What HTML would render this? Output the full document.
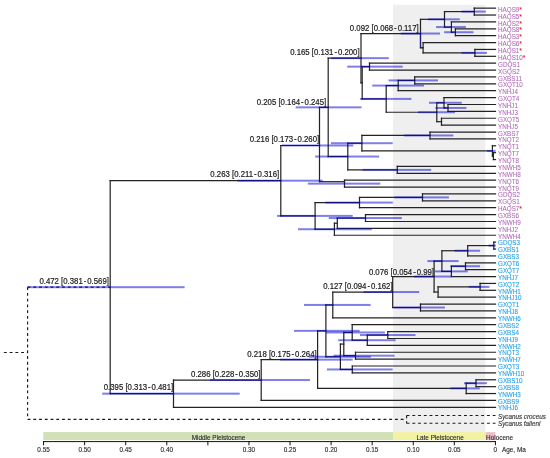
<!DOCTYPE html>
<html><head><meta charset="utf-8"><title>Dated phylogeny</title>
<style>
html,body{margin:0;padding:0;background:#fff;}
svg{display:block;}
text{font-family:"Liberation Sans",Arial,sans-serif;}
.nl{font-size:7.8px;fill:#1a1a1a;text-anchor:end;stroke:#1a1a1a;stroke-width:0.18px;}
.tp{font-size:6.3px;fill:#b066ba;stroke:#b066ba;stroke-width:0.05px;}
.tb{font-size:6.3px;fill:#26a3ec;stroke:#26a3ec;stroke-width:0.1px;}
.og{font-size:6.3px;fill:#333;font-style:italic;stroke:#333;stroke-width:0.12px;}
.ax{font-size:6.4px;fill:#222;text-anchor:middle;stroke:#222;stroke-width:0.1px;}
.st{font-size:6.4px;fill:#222;text-anchor:middle;stroke:#222;stroke-width:0.08px;}
</style></head><body>
<svg width="550" height="458" viewBox="0 0 550 458">
<rect width="550" height="458" fill="#fff"/>
<g>
<rect x="393" y="4.8" width="92.3" height="427.2" fill="#efefef"/>
<rect x="43.3" y="432.1" width="349.7" height="8.0" fill="#d1e0b5"/>
<rect x="393" y="432.1" width="92.6" height="8.0" fill="#f2f2a2"/>
<rect x="485.6" y="432.1" width="9.8" height="8.0" fill="#edc0c8"/>
<text class="st" transform="translate(218.6,439.5) scale(1,1.1)">Middle Pleistocene</text>
<text class="st" transform="translate(440.1,439.5) scale(1,1.1)">Late Pleistocene</text>
<text class="st" transform="translate(499.6,439.5) scale(1,1.1)">Holocene</text>
<g stroke="#111" stroke-width="1" fill="none">
<line x1="43.1" y1="441.6" x2="495.9" y2="441.6"/>
<line x1="43.57" y1="441" x2="43.57" y2="445.3"/>
<line x1="84.65" y1="441" x2="84.65" y2="445.3"/>
<line x1="125.72" y1="441" x2="125.72" y2="445.3"/>
<line x1="166.8" y1="441" x2="166.8" y2="445.3"/>
<line x1="207.87" y1="441" x2="207.87" y2="445.3"/>
<line x1="248.95" y1="441" x2="248.95" y2="445.3"/>
<line x1="290.02" y1="441" x2="290.02" y2="445.3"/>
<line x1="331.1" y1="441" x2="331.1" y2="445.3"/>
<line x1="372.17" y1="441" x2="372.17" y2="445.3"/>
<line x1="413.25" y1="441" x2="413.25" y2="445.3"/>
<line x1="454.32" y1="441" x2="454.32" y2="445.3"/>
<line x1="495.4" y1="441" x2="495.4" y2="445.3"/>
</g>
<text class="ax" x="43.57" y="452">0.55</text>
<text class="ax" x="84.65" y="452">0.50</text>
<text class="ax" x="125.72" y="452">0.45</text>
<text class="ax" x="166.8" y="452">0.40</text>
<text class="ax" x="248.95" y="452">0.30</text>
<text class="ax" x="290.02" y="452">0.25</text>
<text class="ax" x="331.1" y="452">0.20</text>
<text class="ax" x="372.17" y="452">0.15</text>
<text class="ax" x="413.25" y="452">0.10</text>
<text class="ax" x="454.32" y="452">0.05</text>
<text class="ax" x="495.4" y="452">0</text>
<text class="ax" x="513.9" y="451.5">Age, Ma</text>
<g stroke="#232323" stroke-width="1.22" fill="none" stroke-linecap="square">
<line x1="110.2" y1="180.7" x2="110.2" y2="393.66"/>
<line x1="110.2" y1="180.7" x2="280.8" y2="180.7"/>
<line x1="280.8" y1="145.49" x2="280.8" y2="215.9"/>
<line x1="280.8" y1="145.49" x2="319.5" y2="145.49"/>
<line x1="319.5" y1="107.35" x2="319.5" y2="181.7"/>
<line x1="319.5" y1="107.35" x2="328.2" y2="107.35"/>
<line x1="328.2" y1="58.15" x2="328.2" y2="156.54"/>
<line x1="328.2" y1="58.15" x2="361" y2="58.15"/>
<line x1="361" y1="33.53" x2="361" y2="82.78"/>
<line x1="361" y1="33.53" x2="420.5" y2="33.53"/>
<line x1="420.5" y1="19.33" x2="420.5" y2="47.72"/>
<line x1="420.5" y1="19.33" x2="444.5" y2="19.33"/>
<line x1="444.5" y1="11.59" x2="444.5" y2="27.08"/>
<line x1="444.5" y1="11.59" x2="474.3" y2="11.59"/>
<line x1="474.3" y1="8.15" x2="474.3" y2="15.03"/>
<line x1="474.3" y1="8.15" x2="495.5" y2="8.15"/>
<line x1="474.3" y1="15.03" x2="495.5" y2="15.03"/>
<line x1="444.5" y1="27.08" x2="451.4" y2="27.08"/>
<line x1="451.4" y1="21.91" x2="451.4" y2="32.24"/>
<line x1="451.4" y1="21.91" x2="495.5" y2="21.91"/>
<line x1="451.4" y1="32.24" x2="455.4" y2="32.24"/>
<line x1="455.4" y1="28.8" x2="455.4" y2="35.68"/>
<line x1="455.4" y1="28.8" x2="495.5" y2="28.8"/>
<line x1="455.4" y1="35.68" x2="495.5" y2="35.68"/>
<line x1="420.5" y1="47.72" x2="423.1" y2="47.72"/>
<line x1="423.1" y1="42.56" x2="423.1" y2="52.88"/>
<line x1="423.1" y1="42.56" x2="495.5" y2="42.56"/>
<line x1="423.1" y1="52.88" x2="474.9" y2="52.88"/>
<line x1="474.9" y1="49.44" x2="474.9" y2="56.32"/>
<line x1="474.9" y1="49.44" x2="495.5" y2="49.44"/>
<line x1="474.9" y1="56.32" x2="495.5" y2="56.32"/>
<line x1="361" y1="82.78" x2="362.2" y2="82.78"/>
<line x1="362.2" y1="66.65" x2="362.2" y2="98.91"/>
<line x1="362.2" y1="66.65" x2="369.5" y2="66.65"/>
<line x1="369.5" y1="63.21" x2="369.5" y2="70.09"/>
<line x1="369.5" y1="63.21" x2="495.5" y2="63.21"/>
<line x1="369.5" y1="70.09" x2="495.5" y2="70.09"/>
<line x1="362.2" y1="98.91" x2="386.2" y2="98.91"/>
<line x1="386.2" y1="85.57" x2="386.2" y2="112.24"/>
<line x1="386.2" y1="85.57" x2="398.2" y2="85.57"/>
<line x1="398.2" y1="80.41" x2="398.2" y2="90.73"/>
<line x1="398.2" y1="80.41" x2="414.7" y2="80.41"/>
<line x1="414.7" y1="76.97" x2="414.7" y2="83.85"/>
<line x1="414.7" y1="76.97" x2="495.5" y2="76.97"/>
<line x1="414.7" y1="83.85" x2="495.5" y2="83.85"/>
<line x1="398.2" y1="90.73" x2="495.5" y2="90.73"/>
<line x1="386.2" y1="112.24" x2="436.8" y2="112.24"/>
<line x1="436.8" y1="102.78" x2="436.8" y2="121.7"/>
<line x1="436.8" y1="102.78" x2="444" y2="102.78"/>
<line x1="444" y1="97.62" x2="444" y2="107.94"/>
<line x1="444" y1="97.62" x2="495.5" y2="97.62"/>
<line x1="444" y1="107.94" x2="448" y2="107.94"/>
<line x1="448" y1="104.5" x2="448" y2="111.38"/>
<line x1="448" y1="104.5" x2="495.5" y2="104.5"/>
<line x1="448" y1="111.38" x2="495.5" y2="111.38"/>
<line x1="436.8" y1="121.7" x2="441.5" y2="121.7"/>
<line x1="441.5" y1="118.26" x2="441.5" y2="125.14"/>
<line x1="441.5" y1="118.26" x2="495.5" y2="118.26"/>
<line x1="441.5" y1="125.14" x2="495.5" y2="125.14"/>
<line x1="328.2" y1="156.54" x2="347.8" y2="156.54"/>
<line x1="347.8" y1="143.21" x2="347.8" y2="169.88"/>
<line x1="347.8" y1="143.21" x2="361.9" y2="143.21"/>
<line x1="361.9" y1="135.47" x2="361.9" y2="150.95"/>
<line x1="361.9" y1="135.47" x2="430" y2="135.47"/>
<line x1="430" y1="132.03" x2="430" y2="138.91"/>
<line x1="430" y1="132.03" x2="495.5" y2="132.03"/>
<line x1="430" y1="138.91" x2="495.5" y2="138.91"/>
<line x1="361.9" y1="150.95" x2="492.4" y2="150.95"/>
<line x1="492.4" y1="145.79" x2="492.4" y2="156.11"/>
<line x1="492.4" y1="145.79" x2="495.5" y2="145.79"/>
<line x1="492.4" y1="156.11" x2="493.4" y2="156.11"/>
<line x1="493.4" y1="152.67" x2="493.4" y2="159.55"/>
<line x1="493.4" y1="152.67" x2="495.5" y2="152.67"/>
<line x1="493.4" y1="159.55" x2="495.5" y2="159.55"/>
<line x1="347.8" y1="169.88" x2="397.3" y2="169.88"/>
<line x1="397.3" y1="166.44" x2="397.3" y2="173.32"/>
<line x1="397.3" y1="166.44" x2="495.5" y2="166.44"/>
<line x1="397.3" y1="173.32" x2="495.5" y2="173.32"/>
<line x1="319.5" y1="181.7" x2="344.5" y2="181.7"/>
<line x1="344.5" y1="180.2" x2="344.5" y2="187.08"/>
<line x1="344.5" y1="180.2" x2="495.5" y2="180.2"/>
<line x1="344.5" y1="187.08" x2="495.5" y2="187.08"/>
<line x1="280.8" y1="215.9" x2="315.1" y2="215.9"/>
<line x1="315.1" y1="202.57" x2="315.1" y2="229.23"/>
<line x1="315.1" y1="202.57" x2="359.5" y2="202.57"/>
<line x1="359.5" y1="197.41" x2="359.5" y2="207.73"/>
<line x1="359.5" y1="197.41" x2="422.5" y2="197.41"/>
<line x1="422.5" y1="193.96" x2="422.5" y2="200.85"/>
<line x1="422.5" y1="193.96" x2="495.5" y2="193.96"/>
<line x1="422.5" y1="200.85" x2="495.5" y2="200.85"/>
<line x1="359.5" y1="207.73" x2="495.5" y2="207.73"/>
<line x1="315.1" y1="229.23" x2="334.4" y2="229.23"/>
<line x1="334.4" y1="223.21" x2="334.4" y2="235.26"/>
<line x1="334.4" y1="223.21" x2="337.3" y2="223.21"/>
<line x1="337.3" y1="218.05" x2="337.3" y2="228.37"/>
<line x1="337.3" y1="218.05" x2="365.5" y2="218.05"/>
<line x1="365.5" y1="214.61" x2="365.5" y2="221.49"/>
<line x1="365.5" y1="214.61" x2="495.5" y2="214.61"/>
<line x1="365.5" y1="221.49" x2="495.5" y2="221.49"/>
<line x1="337.3" y1="228.37" x2="495.5" y2="228.37"/>
<line x1="334.4" y1="235.26" x2="495.5" y2="235.26"/>
<line x1="110.2" y1="393.66" x2="173.5" y2="393.66"/>
<line x1="173.5" y1="380.02" x2="173.5" y2="407.31"/>
<line x1="173.5" y1="380.02" x2="261.2" y2="380.02"/>
<line x1="261.2" y1="359.62" x2="261.2" y2="400.42"/>
<line x1="261.2" y1="359.62" x2="317.6" y2="359.62"/>
<line x1="317.6" y1="330.85" x2="317.6" y2="388.38"/>
<line x1="317.6" y1="330.85" x2="325.9" y2="330.85"/>
<line x1="325.9" y1="304.94" x2="325.9" y2="356.77"/>
<line x1="325.9" y1="304.94" x2="332.8" y2="304.94"/>
<line x1="332.8" y1="292.03" x2="332.8" y2="317.84"/>
<line x1="332.8" y1="292.03" x2="392.7" y2="292.03"/>
<line x1="392.7" y1="276.55" x2="392.7" y2="307.52"/>
<line x1="392.7" y1="276.55" x2="434.1" y2="276.55"/>
<line x1="434.1" y1="261.06" x2="434.1" y2="292.03"/>
<line x1="434.1" y1="261.06" x2="441.9" y2="261.06"/>
<line x1="441.9" y1="250.74" x2="441.9" y2="271.39"/>
<line x1="441.9" y1="250.74" x2="467.7" y2="250.74"/>
<line x1="467.7" y1="245.58" x2="467.7" y2="255.9"/>
<line x1="467.7" y1="245.58" x2="493.8" y2="245.58"/>
<line x1="493.8" y1="242.14" x2="493.8" y2="249.02"/>
<line x1="493.8" y1="242.14" x2="495.5" y2="242.14"/>
<line x1="493.8" y1="249.02" x2="495.5" y2="249.02"/>
<line x1="467.7" y1="255.9" x2="495.5" y2="255.9"/>
<line x1="441.9" y1="271.39" x2="451.4" y2="271.39"/>
<line x1="451.4" y1="266.22" x2="451.4" y2="276.55"/>
<line x1="451.4" y1="266.22" x2="465.5" y2="266.22"/>
<line x1="465.5" y1="262.78" x2="465.5" y2="269.67"/>
<line x1="465.5" y1="262.78" x2="495.5" y2="262.78"/>
<line x1="465.5" y1="269.67" x2="495.5" y2="269.67"/>
<line x1="451.4" y1="276.55" x2="495.5" y2="276.55"/>
<line x1="434.1" y1="292.03" x2="438.1" y2="292.03"/>
<line x1="438.1" y1="286.87" x2="438.1" y2="297.19"/>
<line x1="438.1" y1="286.87" x2="480.1" y2="286.87"/>
<line x1="480.1" y1="283.43" x2="480.1" y2="290.31"/>
<line x1="480.1" y1="283.43" x2="495.5" y2="283.43"/>
<line x1="480.1" y1="290.31" x2="495.5" y2="290.31"/>
<line x1="438.1" y1="297.19" x2="495.5" y2="297.19"/>
<line x1="392.7" y1="307.52" x2="420.5" y2="307.52"/>
<line x1="420.5" y1="304.08" x2="420.5" y2="310.96"/>
<line x1="420.5" y1="304.08" x2="495.5" y2="304.08"/>
<line x1="420.5" y1="310.96" x2="495.5" y2="310.96"/>
<line x1="332.8" y1="317.84" x2="495.5" y2="317.84"/>
<line x1="325.9" y1="356.77" x2="340.4" y2="356.77"/>
<line x1="340.4" y1="344.08" x2="340.4" y2="369.45"/>
<line x1="340.4" y1="344.08" x2="343.8" y2="344.08"/>
<line x1="343.8" y1="332.46" x2="343.8" y2="355.69"/>
<line x1="343.8" y1="332.46" x2="352.2" y2="332.46"/>
<line x1="352.2" y1="324.72" x2="352.2" y2="340.21"/>
<line x1="352.2" y1="324.72" x2="495.5" y2="324.72"/>
<line x1="352.2" y1="340.21" x2="367.3" y2="340.21"/>
<line x1="367.3" y1="335.04" x2="367.3" y2="345.37"/>
<line x1="367.3" y1="335.04" x2="387.8" y2="335.04"/>
<line x1="387.8" y1="331.6" x2="387.8" y2="338.49"/>
<line x1="387.8" y1="331.6" x2="495.5" y2="331.6"/>
<line x1="387.8" y1="338.49" x2="495.5" y2="338.49"/>
<line x1="367.3" y1="345.37" x2="495.5" y2="345.37"/>
<line x1="343.8" y1="355.69" x2="355.5" y2="355.69"/>
<line x1="355.5" y1="352.25" x2="355.5" y2="359.13"/>
<line x1="355.5" y1="352.25" x2="495.5" y2="352.25"/>
<line x1="355.5" y1="359.13" x2="495.5" y2="359.13"/>
<line x1="340.4" y1="369.45" x2="352.3" y2="369.45"/>
<line x1="352.3" y1="366.01" x2="352.3" y2="372.9"/>
<line x1="352.3" y1="366.01" x2="495.5" y2="366.01"/>
<line x1="352.3" y1="372.9" x2="495.5" y2="372.9"/>
<line x1="317.6" y1="388.38" x2="466.2" y2="388.38"/>
<line x1="466.2" y1="383.22" x2="466.2" y2="393.54"/>
<line x1="466.2" y1="383.22" x2="476" y2="383.22"/>
<line x1="476" y1="379.78" x2="476" y2="386.66"/>
<line x1="476" y1="379.78" x2="495.5" y2="379.78"/>
<line x1="476" y1="386.66" x2="495.5" y2="386.66"/>
<line x1="466.2" y1="393.54" x2="495.5" y2="393.54"/>
<line x1="261.2" y1="400.42" x2="495.5" y2="400.42"/>
<line x1="173.5" y1="407.31" x2="495.5" y2="407.31"/>
</g>
<g stroke="#1a1a1a" stroke-width="1.15" fill="none" stroke-dasharray="2.87 2.87">
<line x1="3.9" y1="352.5" x2="27.6" y2="352.5"/>
<line x1="27.6" y1="287.18" x2="27.6" y2="419.35"/>
<line x1="27.6" y1="287.18" x2="110.2" y2="287.18"/>
<line x1="27.6" y1="419.35" x2="406.6" y2="419.35"/>
<line x1="406.6" y1="415.5" x2="406.6" y2="423.2"/>
<line x1="406.6" y1="415.5" x2="495.5" y2="415.5"/>
<line x1="406.6" y1="423.2" x2="495.5" y2="423.2"/>
</g>
<g stroke="#1c1c7c" stroke-width="1.2" fill="none">
<line x1="420.5" y1="33.53" x2="420.5" y2="47.72"/>
<line x1="420.5" y1="47.72" x2="423.1" y2="47.72"/>
</g>
<g fill="#0000d8" fill-opacity="0.5">
<rect x="461.5" y="10.59" width="24.3" height="2"/>
<rect x="444.1" y="31.24" width="29.4" height="2"/>
<rect x="436.1" y="26.08" width="29.8" height="2"/>
<rect x="428.1" y="18.33" width="31.7" height="2"/>
<rect x="461.5" y="51.88" width="25.5" height="2"/>
<rect x="400.7" y="32.53" width="39.3" height="2"/>
<rect x="347.2" y="65.65" width="55.5" height="2"/>
<rect x="388.5" y="79.41" width="49.5" height="2"/>
<rect x="372.2" y="84.57" width="51.8" height="2"/>
<rect x="435.4" y="106.94" width="31.1" height="2"/>
<rect x="429" y="101.78" width="32.8" height="2"/>
<rect x="418" y="111.24" width="37" height="2"/>
<rect x="360.1" y="97.91" width="51.3" height="2"/>
<rect x="331.1" y="57.15" width="57.7" height="2"/>
<rect x="404.2" y="134.47" width="49.1" height="2"/>
<rect x="487.1" y="149.95" width="8.5" height="2"/>
<rect x="330.9" y="142.21" width="61.8" height="2"/>
<rect x="362.5" y="168.88" width="68.7" height="2"/>
<rect x="315.1" y="155.54" width="64" height="2"/>
<rect x="295.7" y="106.35" width="65.8" height="2"/>
<rect x="307.8" y="182.64" width="72.5" height="2"/>
<rect x="281.8" y="144.49" width="71.5" height="2"/>
<rect x="394.5" y="196.41" width="54.4" height="2"/>
<rect x="325.3" y="201.57" width="67.5" height="2"/>
<rect x="328.7" y="217.05" width="73.1" height="2"/>
<rect x="298" y="228.23" width="73.8" height="2"/>
<rect x="277" y="214.9" width="75.7" height="2"/>
<rect x="237.6" y="179.7" width="85.1" height="2"/>
<rect x="488.5" y="244.58" width="7.4" height="2"/>
<rect x="454.6" y="249.74" width="25.5" height="2"/>
<rect x="450.5" y="265.22" width="29.6" height="2"/>
<rect x="435" y="270.39" width="32.7" height="2"/>
<rect x="427.4" y="260.06" width="31.2" height="2"/>
<rect x="468.6" y="285.87" width="20.9" height="2"/>
<rect x="414.1" y="275.55" width="36.9" height="2"/>
<rect x="394" y="306.52" width="50.9" height="2"/>
<rect x="363.5" y="291.03" width="55.7" height="2"/>
<rect x="304" y="303.94" width="66.6" height="2"/>
<rect x="360" y="334.04" width="55.5" height="2"/>
<rect x="338.2" y="339.21" width="57.4" height="2"/>
<rect x="326" y="331.46" width="58.9" height="2"/>
<rect x="333.6" y="354.69" width="60.9" height="2"/>
<rect x="326.9" y="368.45" width="65.8" height="2"/>
<rect x="309.1" y="355.77" width="61.8" height="2"/>
<rect x="294" y="329.85" width="65.7" height="2"/>
<rect x="464" y="382.22" width="22.9" height="2"/>
<rect x="450.4" y="387.38" width="29.4" height="2"/>
<rect x="280" y="358.62" width="72.7" height="2"/>
<rect x="210" y="379.02" width="99.9" height="2"/>
<rect x="102.2" y="392.66" width="137.5" height="2"/>
<rect x="27.6" y="286.18" width="157" height="2"/>
</g>
<text class="nl" transform="translate(418.7,30.83) scale(1,1.12)">0.092 [0.068<tspan dx="0.95">-</tspan><tspan dx="0.95">0.117]</tspan></text>
<text class="nl" transform="translate(359.6,54.75) scale(1,1.12)">0.165 [0.131<tspan dx="0.95">-</tspan><tspan dx="0.95">0.200]</tspan></text>
<text class="nl" transform="translate(326.2,105.05) scale(1,1.12)">0.205 [0.164<tspan dx="0.95">-</tspan><tspan dx="0.95">0.245]</tspan></text>
<text class="nl" transform="translate(319.2,142.49) scale(1,1.12)">0.216 [0.173<tspan dx="0.95">-</tspan><tspan dx="0.95">0.260]</tspan></text>
<text class="nl" transform="translate(279.2,177.3) scale(1,1.12)">0.263 [0.211<tspan dx="0.95">-</tspan><tspan dx="0.95">0.316]</tspan></text>
<text class="nl" transform="translate(434,274.55) scale(1,1.12)">0.076 [0.054<tspan dx="0.95">-</tspan><tspan dx="0.95">0.99]</tspan></text>
<text class="nl" transform="translate(392.6,289.23) scale(1,1.12)">0.127 [0.094<tspan dx="0.95">-</tspan><tspan dx="0.95">0.162]</tspan></text>
<text class="nl" transform="translate(316.7,356.72) scale(1,1.12)">0.218 [0.175<tspan dx="0.95">-</tspan><tspan dx="0.95">0.264]</tspan></text>
<text class="nl" transform="translate(260.5,376.62) scale(1,1.12)">0.286 [0.228<tspan dx="0.95">-</tspan><tspan dx="0.95">0.350]</tspan></text>
<text class="nl" transform="translate(173.2,390.26) scale(1,1.12)">0.395 [0.313<tspan dx="0.95">-</tspan><tspan dx="0.95">0.481]</tspan></text>
<text class="nl" transform="translate(108.9,283.78) scale(1,1.12)">0.472 [0.381<tspan dx="0.95">-</tspan><tspan dx="0.95">0.569]</tspan></text>
<text class="tp" transform="translate(498,11.85) scale(1,1.1)">HAQS9<tspan fill="#e8141e" stroke="#e8141e" font-size="6.8">*</tspan></text>
<text class="tp" transform="translate(498,18.72) scale(1,1.1)">HAQS5<tspan fill="#e8141e" stroke="#e8141e" font-size="6.8">*</tspan></text>
<text class="tp" transform="translate(498,25.59) scale(1,1.1)">HAQS2<tspan fill="#e8141e" stroke="#e8141e" font-size="6.8">*</tspan></text>
<text class="tp" transform="translate(498,32.46) scale(1,1.1)">HAQS8<tspan fill="#e8141e" stroke="#e8141e" font-size="6.8">*</tspan></text>
<text class="tp" transform="translate(498,39.34) scale(1,1.1)">HAQS3<tspan fill="#e8141e" stroke="#e8141e" font-size="6.8">*</tspan></text>
<text class="tp" transform="translate(498,46.21) scale(1,1.1)">HAQS6<tspan fill="#e8141e" stroke="#e8141e" font-size="6.8">*</tspan></text>
<text class="tp" transform="translate(498,53.08) scale(1,1.1)">HAQS1<tspan fill="#e8141e" stroke="#e8141e" font-size="6.8">*</tspan></text>
<text class="tp" transform="translate(498,59.95) scale(1,1.1)">HAQS10<tspan fill="#e8141e" stroke="#e8141e" font-size="6.8">*</tspan></text>
<text class="tp" transform="translate(498,66.82) scale(1,1.1)">GDQS1</text>
<text class="tp" transform="translate(498,73.69) scale(1,1.1)">XGQS2</text>
<text class="tp" transform="translate(498,80.57) scale(1,1.1)">GXBS11</text>
<text class="tp" transform="translate(498,87.44) scale(1,1.1)">GXQT10</text>
<text class="tp" transform="translate(498,94.31) scale(1,1.1)">YNHJ4</text>
<text class="tp" transform="translate(498,101.18) scale(1,1.1)">GXQT4</text>
<text class="tp" transform="translate(498,108.05) scale(1,1.1)">YNHJ1</text>
<text class="tp" transform="translate(498,114.92) scale(1,1.1)">YNHJ3</text>
<text class="tp" transform="translate(498,121.8) scale(1,1.1)">GXQT5</text>
<text class="tp" transform="translate(498,128.67) scale(1,1.1)">YNHJ5</text>
<text class="tp" transform="translate(498,135.54) scale(1,1.1)">GXBS7</text>
<text class="tp" transform="translate(498,142.41) scale(1,1.1)">YNQT2</text>
<text class="tp" transform="translate(498,149.28) scale(1,1.1)">YNQT1</text>
<text class="tp" transform="translate(498,156.15) scale(1,1.1)">YNQT7</text>
<text class="tp" transform="translate(498,163.03) scale(1,1.1)">YNQT8</text>
<text class="tp" transform="translate(498,169.9) scale(1,1.1)">YNWH5</text>
<text class="tp" transform="translate(498,176.77) scale(1,1.1)">YNWH8</text>
<text class="tp" transform="translate(498,183.64) scale(1,1.1)">YNQT6</text>
<text class="tp" transform="translate(498,190.51) scale(1,1.1)">YNQT9</text>
<text class="tp" transform="translate(498,197.38) scale(1,1.1)">GDQS2</text>
<text class="tp" transform="translate(498,204.26) scale(1,1.1)">XGQS1</text>
<text class="tp" transform="translate(498,211.13) scale(1,1.1)">HAQS7<tspan fill="#e8141e" stroke="#e8141e" font-size="6.8">*</tspan></text>
<text class="tp" transform="translate(498,218) scale(1,1.1)">GXBS6</text>
<text class="tp" transform="translate(498,224.87) scale(1,1.1)">YNWH9</text>
<text class="tp" transform="translate(498,231.74) scale(1,1.1)">YNHJ2</text>
<text class="tp" transform="translate(498,238.61) scale(1,1.1)">YNWH4</text>
<text class="tb" transform="translate(498,245.49) scale(1,1.1)">GDQS3</text>
<text class="tb" transform="translate(498,252.36) scale(1,1.1)">GXBS1</text>
<text class="tb" transform="translate(498,259.23) scale(1,1.1)">GXBS3</text>
<text class="tb" transform="translate(498,266.1) scale(1,1.1)">GXQT6</text>
<text class="tb" transform="translate(498,272.97) scale(1,1.1)">GXQT7</text>
<text class="tb" transform="translate(498,279.84) scale(1,1.1)">YNHJ7</text>
<text class="tb" transform="translate(498,286.72) scale(1,1.1)">GXQT2</text>
<text class="tb" transform="translate(498,293.59) scale(1,1.1)">YNWH1</text>
<text class="tb" transform="translate(498,300.46) scale(1,1.1)">YNHJ10</text>
<text class="tb" transform="translate(498,307.33) scale(1,1.1)">GXQT1</text>
<text class="tb" transform="translate(498,314.2) scale(1,1.1)">YNHJ8</text>
<text class="tb" transform="translate(498,321.07) scale(1,1.1)">YNWH6</text>
<text class="tb" transform="translate(498,327.95) scale(1,1.1)">GXBS2</text>
<text class="tb" transform="translate(498,334.82) scale(1,1.1)">GXBS4</text>
<text class="tb" transform="translate(498,341.69) scale(1,1.1)">YNHJ9</text>
<text class="tb" transform="translate(498,348.56) scale(1,1.1)">YNWH2</text>
<text class="tb" transform="translate(498,355.43) scale(1,1.1)">YNQT3</text>
<text class="tb" transform="translate(498,362.3) scale(1,1.1)">YNWH7</text>
<text class="tb" transform="translate(498,369.18) scale(1,1.1)">GXQT3</text>
<text class="tb" transform="translate(498,376.05) scale(1,1.1)">YNWH10</text>
<text class="tb" transform="translate(498,382.92) scale(1,1.1)">GXBS10</text>
<text class="tb" transform="translate(498,389.79) scale(1,1.1)">GXBS8</text>
<text class="tb" transform="translate(498,396.66) scale(1,1.1)">YNWH3</text>
<text class="tb" transform="translate(498,403.53) scale(1,1.1)">GXBS9</text>
<text class="tb" transform="translate(498,410.41) scale(1,1.1)">YNHJ6</text>
<text class="og" transform="translate(498,418.7) scale(1,1.1)">Sycanus croceus</text>
<text class="og" transform="translate(498,426.4) scale(1,1.1)">Sycanus falleni</text>
</g>
</svg>
</body></html>
